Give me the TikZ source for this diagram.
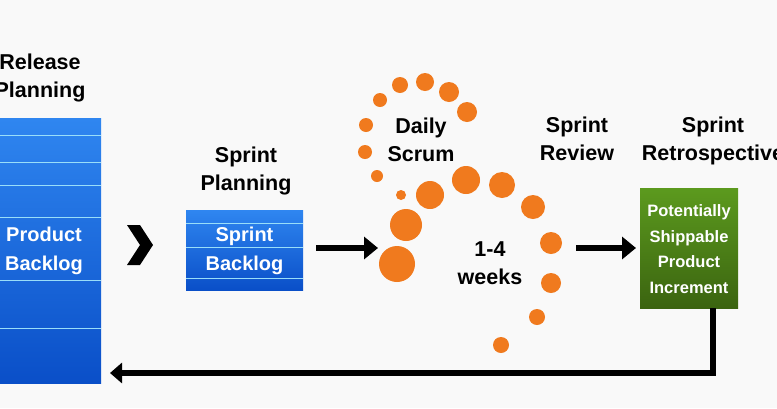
\documentclass[tikz,border=0pt]{standalone}
\usepackage{fontspec}
\setmainfont{Liberation Sans}
\usetikzlibrary{arrows.meta}
\definecolor{bltop}{HTML}{2F86F0}
\definecolor{blbot}{HTML}{0A4FC8}
\definecolor{grtop}{HTML}{5C9A1E}
\definecolor{grbot}{HTML}{3B6410}
\definecolor{dotc}{HTML}{F07A1E}
\begin{document}
\begin{tikzpicture}[x=1pt,y=-1pt,
  lbl/.style={font=\bfseries\fontsize{21.5}{28.5}\selectfont,align=center,text=black},
  wlbl/.style={font=\bfseries\fontsize{20}{29}\selectfont,align=center,text=white},
  fat/.style={line width=6pt,-{Triangle[length=14pt,width=22pt]}}]
\fill[gray!5] (0,0) rectangle (777,408);
\useasboundingbox (0,0) rectangle (777,408);
% product backlog
\shade[top color=bltop,bottom color=blbot] (0,118) rectangle (101,383);
\foreach \y in {135,162,185,217,280,328} \draw[white!60!cyan,line width=0.8pt] (0,\y) -- (101,\y);
\node[wlbl] (pb) at (44,251) {Product\\Backlog};
\node[lbl] (rp) at (40,78) {Release\\Planning};
% chevron
\fill (127,225) -- (140,225) -- (153,245) -- (140,265) -- (127,265) -- (140,245) -- cycle;
% sprint backlog
\shade[top color=bltop,bottom color=blbot] (186,210) rectangle (303,290);
\foreach \y in {223,247,278} \draw[white!60!cyan,line width=0.8pt] (186,\y) -- (303,\y);
\node[wlbl] (sb) at (244.5,251) {Sprint\\Backlog};
\node[lbl] (sp) at (246,171) {Sprint\\Planning};
\coordinate (a1) at (316,248); \coordinate (a1e) at (378,248);
\draw[fat] (a1) -- (a1e);
% dots
\foreach \x/\y/\r in {380/100/7,400/85/8,425/82/9,449/92/10,467/112/10,366/125/7,365/152/7,377/176/6,401/195/5,430/195/14,466/180/14,502/185/13,533/207/12,406/225/16,397/264/18,551/243/11,551/283/10,537/317/8,501/345/8}
  \fill[dotc] (\x,\y) circle (\r);
\node[lbl] (ds) at (421,140) {Daily\\Scrum};
\node[lbl] (wk) at (490,263) {1-4\\weeks};
\node[lbl] (sr) at (577,139) {Sprint\\Review};
\node[lbl] (sre) at (713,141) {Sprint\\Retrospective};
\coordinate (a2) at (576,248); \coordinate (a2e) at (636,248);
\draw[fat] (a2) -- (a2e);
% green box
\shade[top color=grtop,bottom color=grbot] (640,188) rectangle (738,308);
\node[font=\bfseries\fontsize{16.5}{25.5}\selectfont,align=center,text=white] (pp) at (689,249) {Potentially\\Shippable\\Product\\Increment};
\coordinate (r1) at (713,308); \coordinate (r2) at (713,373); \coordinate (r3) at (110,373);
\draw[line width=6pt,-{Triangle[length=12pt,width=20pt]}] (r1) -- (r2) -- (r3);
\end{tikzpicture}
\end{document}
